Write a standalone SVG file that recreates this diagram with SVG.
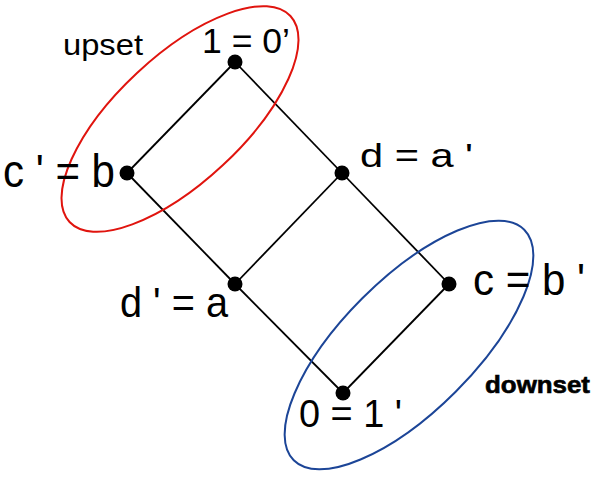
<svg xmlns="http://www.w3.org/2000/svg" width="595" height="478" viewBox="0 0 595 478">
<style>
.edge{stroke:#000;stroke-width:1.8;fill:none}
.dot{fill:#000}
.lbl{font-family:"Liberation Sans",Arial,sans-serif;fill:#000}
.set{fill:none;stroke-width:2}
</style>
<rect width="595" height="478" fill="#fff"/>
<g id="connectors">
<line class="edge" x1="235" y1="62" x2="127" y2="173"/>
<line class="edge" x1="235" y1="62" x2="342" y2="173"/>
<line class="edge" x1="127" y1="173" x2="235" y2="284"/>
<line class="edge" x1="342" y1="173" x2="235" y2="284"/>
<line class="edge" x1="342" y1="173" x2="449" y2="284"/>
<line class="edge" x1="235" y1="284" x2="343" y2="393"/>
<line class="edge" x1="449" y1="284" x2="343" y2="393"/>
</g>
<g id="upset">
<ellipse class="set" stroke="#e0140e" cx="180" cy="119" rx="151" ry="63" transform="rotate(-43 180 119)"/>
<text class="lbl" x="63" y="55" font-size="29" textLength="80" lengthAdjust="spacingAndGlyphs">upset</text>
</g>
<g id="downset">
<ellipse class="set" stroke="#1c4597" cx="409" cy="345" rx="163" ry="66" transform="rotate(-45 409 345)"/>
<text class="lbl" x="485" y="393" font-size="24" font-weight="bold" stroke="#000" stroke-width="0.6" textLength="105" lengthAdjust="spacingAndGlyphs">downset</text>
</g>
<g id="n-top">
<circle class="dot" cx="235" cy="62" r="7.5"/>
<text class="lbl" x="202" y="53" font-size="35" textLength="88" lengthAdjust="spacingAndGlyphs">1 = 0’</text>
</g>
<g id="n-cb">
<circle class="dot" cx="127" cy="173" r="7.5"/>
<text class="lbl" x="3" y="187" font-size="46" textLength="112" lengthAdjust="spacingAndGlyphs">c ' = b</text>
</g>
<g id="n-da">
<circle class="dot" cx="342" cy="173" r="7.5"/>
<text class="lbl" x="360" y="167" font-size="33" textLength="113" lengthAdjust="spacingAndGlyphs">d = a '</text>
</g>
<g id="n-d2a">
<circle class="dot" cx="235" cy="284" r="7.5"/>
<text class="lbl" x="120" y="317" font-size="43" textLength="108" lengthAdjust="spacingAndGlyphs">d ' = a</text>
</g>
<g id="n-cb2">
<circle class="dot" cx="449" cy="284" r="7.5"/>
<text class="lbl" x="473" y="295" font-size="44" textLength="112" lengthAdjust="spacingAndGlyphs">c = b '</text>
</g>
<g id="n-bottom">
<circle class="dot" cx="343" cy="393" r="7.5"/>
<text class="lbl" x="299" y="427" font-size="39" textLength="103" lengthAdjust="spacingAndGlyphs">0 = 1 '</text>
</g>
</svg>
